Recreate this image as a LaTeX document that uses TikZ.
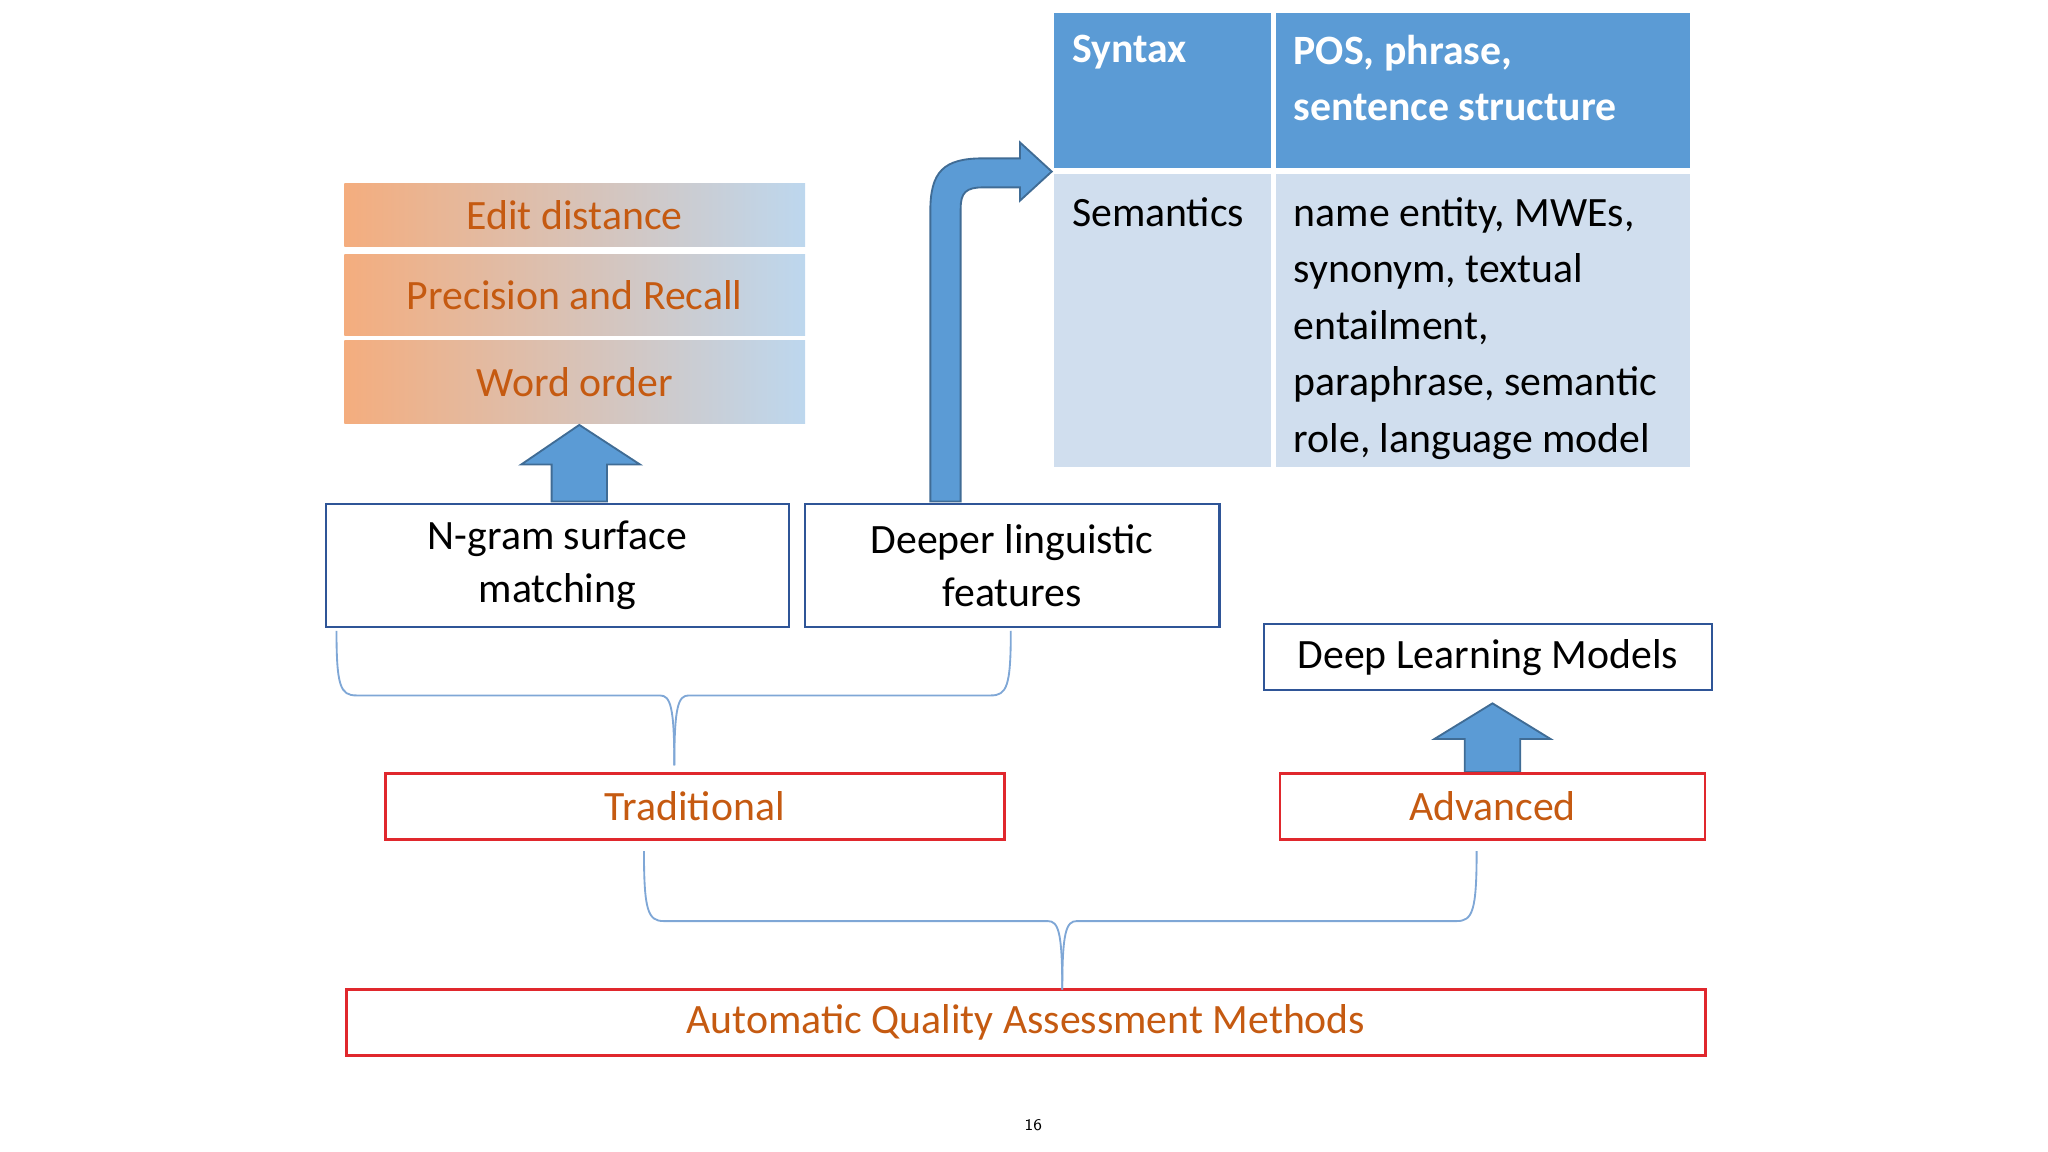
\documentclass[tikz,border=0pt]{standalone}
\usepackage{fontspec}
\setmainfont{Carlito}
\begin{document}
\begin{tikzpicture}[x=0.01cm,y=-0.01cm,
  fnt/.style={font=\fontsize{9}{11.5}\selectfont},
  bbox/.style={draw=bdr,line width=0.5pt,fill=white,fnt,align=center,inner sep=0pt},
  rbox/.style={draw=rd,line width=0.6pt,fnt,text=otx,inner sep=0pt},
  grad/.style={left color=gor,right color=gbl,draw=none,fnt,text=otx,inner sep=0pt},
  brace/.style={draw=brc,line width=0.4pt},
  barrow/.style={fill=blk,draw=blk!70!black,line width=0.4pt}]
\definecolor{hdr}{HTML}{5B9BD5}
\definecolor{lt}{HTML}{D0DEEE}
\definecolor{blk}{HTML}{5B9BD5}
\definecolor{bdr}{HTML}{2F5597}
\definecolor{rd}{HTML}{E0282D}
\definecolor{otx}{HTML}{C55A11}
\definecolor{gor}{HTML}{F4AD7E}
\definecolor{gbl}{HTML}{BDD7EE}
\definecolor{brc}{HTML}{7FA7D6}
\useasboundingbox (0,0) rectangle (1552,873);
% table
\fill[hdr] (799,10) rectangle (963,127);
\fill[hdr] (967,10) rectangle (1281,127);
\fill[lt] (799,132) rectangle (963,354);
\fill[lt] (967,132) rectangle (1281,354);
\node[fnt,text=white,anchor=north west,font=\fontsize{9}{11.5}\selectfont\bfseries] (syn) at (800,14) {Syntax};
\node[fnt,text=white,anchor=north west,align=left,font=\fontsize{9}{12.2}\selectfont\bfseries] (pos) at (968,14) {POS, phrase,\\sentence structure};
\node[fnt,anchor=north west] (sem) at (800,137) {Semantics};
\node[fnt,anchor=north west,align=left,font=\fontsize{9}{12.2}\selectfont] (semt) at (968,137) {name entity, MWEs,\\synonym, textual\\entailment,\\paraphrase, semantic\\role, language model};
% gradient boxes
\node[grad,minimum width=3.49cm,minimum height=0.48cm] (ed) at (435.5,163) {Edit distance};
\node[grad,minimum width=3.49cm,minimum height=0.61cm] (pr) at (435.5,223.5) {Precision and Recall};
\node[grad,minimum width=3.49cm,minimum height=0.63cm] (wo) at (435.5,289.5) {Word order};
% up arrow 1
\path[barrow] (418,380) -- (418,352) -- (395,352) -- (439,322) -- (485,352) -- (460,352) -- (460,380) -- cycle;
% boxes
\node[bbox,minimum width=3.51cm,minimum height=0.93cm] (ng) at (422.5,428.5) {N-gram surface\\matching};
\node[bbox,minimum width=3.14cm,minimum height=0.93cm] (dl) at (767,428.5) {Deeper linguistic\\features};
\node[bbox,minimum width=3.39cm,minimum height=0.50cm] (dm) at (1127.5,498) {Deep Learning Models};
% bent arrow
\path[barrow] (705,380) -- (705,160) .. controls (705,130) and (715,120) .. (745,120) -- (773,120) -- (773,108) -- (797,130) -- (773,152) -- (773,142) -- (745,142) .. controls (732,142) and (728,146) .. (728,158) -- (728,380) -- cycle;
% up arrow 2
\path[barrow] (1110,585) -- (1110,560) -- (1087,560) -- (1131,533) -- (1175,560) -- (1152,560) -- (1152,585) -- cycle;
% red boxes
\node[rbox,minimum width=4.69cm,minimum height=0.50cm] (tr) at (526.5,611) {Traditional};
\node[rbox,minimum width=3.22cm,minimum height=0.50cm] (ad) at (1131,611) {Advanced};
\node[rbox,minimum width=10.29cm,minimum height=0.50cm] (aq) at (777.5,775) {Automatic Quality Assessment Methods};
% braces
\coordinate (b1l) at (255,478); \coordinate (b1r) at (766,478); \coordinate (b1t) at (511,580);
\draw[brace] (b1l) .. controls (255,520) and (258,527) .. (270,527) -- (500,527) .. controls (508,527) and (511,535) .. (b1t);
\draw[brace] (b1r) .. controls (766,520) and (763,527) .. (751,527) -- (522,527) .. controls (514,527) and (511,535) .. (b1t);
\coordinate (b2l) at (488,645); \coordinate (b2r) at (1119,645); \coordinate (b2t) at (805,750);
\draw[brace] (b2l) .. controls (488,690) and (491,698) .. (503,698) -- (794,698) .. controls (802,698) and (805,706) .. (b2t);
\draw[brace] (b2r) .. controls (1119,690) and (1116,698) .. (1104,698) -- (816,698) .. controls (808,698) and (805,706) .. (b2t);
\node[font=\fontsize{3.5}{4}\selectfont\sffamily] (pg) at (783,853) {16};
\end{tikzpicture}
\end{document}
